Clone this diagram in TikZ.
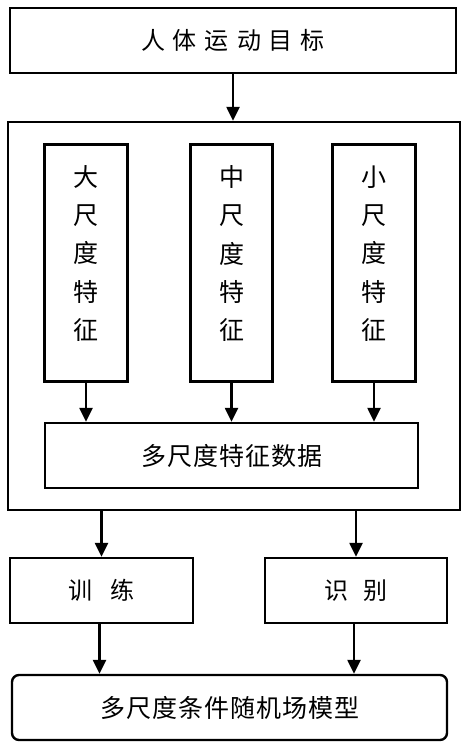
\documentclass[tikz,border=0pt]{standalone}
\usepackage{fontspec}
\setmainfont{Noto Sans CJK SC}
\usetikzlibrary{arrows.meta}
\begin{document}
\begin{tikzpicture}[x=1pt,y=-1pt,
  box/.style={draw,line width=2.4pt,inner sep=0pt},
  arr/.style={line width=2.4pt,-{Triangle[width=13pt,length=14pt]}},
  vtext/.style={align=center,font=\fontsize{25}{38.3}\selectfont,inner sep=0pt}]
\useasboundingbox (0,0) rectangle (474,754);
\node[box,minimum width=446pt,minimum height=65pt,font=\fontsize{24}{26}\selectfont] (top) at (233,40.5) {人\hspace{8pt}体\hspace{8pt}运\hspace{8pt}动\hspace{8pt}目\hspace{8pt}标};
\node[box,minimum width=452pt,minimum height=388pt] (outer) at (234,316) {};
\node[box,minimum width=83pt,minimum height=237pt] (s1) at (86,263) {};
\node[box,minimum width=82pt,minimum height=237pt] (s2) at (231.5,263) {};
\node[box,minimum width=83pt,minimum height=237pt] (s3) at (374,263) {};
\node[vtext] (t1) at (86,253.5) {大\\尺\\度\\特\\征};
\node[vtext] (t2) at (231.5,253.5) {中\\尺\\度\\特\\征};
\node[vtext] (t3) at (374,253.5) {小\\尺\\度\\特\\征};
\node[box,minimum width=373pt,minimum height=65pt,font=\fontsize{25}{26}\selectfont] (data) at (231.5,455.5) {多\hspace{1pt}尺\hspace{1pt}度\hspace{1pt}特\hspace{1pt}征\hspace{1pt}数\hspace{1pt}据};
\node[box,minimum width=183pt,minimum height=65pt,font=\fontsize{24}{26}\selectfont] (train) at (101.5,590.5) {训\hspace{18pt}练};
\node[box,minimum width=182pt,minimum height=65pt,font=\fontsize{24}{26}\selectfont] (ident) at (356,590.5) {识\hspace{16pt}别};
\node[box,rounded corners=7pt,minimum width=435pt,minimum height=65pt,font=\fontsize{25}{26}\selectfont] (model) at (229.5,707.5) {多\hspace{1pt}尺\hspace{1pt}度\hspace{1pt}条\hspace{1pt}件\hspace{1pt}随\hspace{1pt}机\hspace{1pt}场\hspace{1pt}模\hspace{1pt}型};
\draw[arr] (top.south) -- (top.south |- outer.north);
\draw[arr] (s1.south) -- (s1.south |- data.north);
\draw[arr] (s2.south) -- (s2.south |- data.north);
\draw[arr] (s3.south) -- (s3.south |- data.north);
\draw[arr] (train.north |- outer.south) -- (train.north);
\draw[arr] (ident.north |- outer.south) -- (ident.north);
\draw[arr] ([xshift=-2pt]train.south) -- ([xshift=-2pt]train.south |- model.north);
\draw[arr] ([xshift=-2pt]ident.south) -- ([xshift=-2pt]ident.south |- model.north);
\end{tikzpicture}
\end{document}
